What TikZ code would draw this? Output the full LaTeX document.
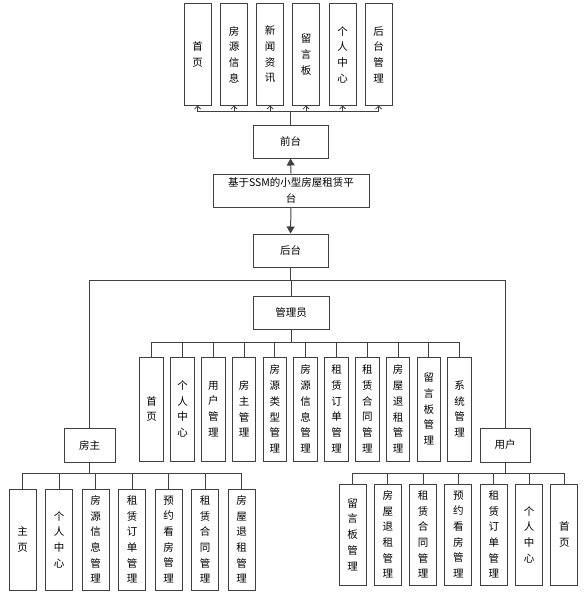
\documentclass[tikz,border=0pt]{standalone}
\usepackage{fontspec}
\newfontfamily\cjk{Noto Sans CJK SC}
\usetikzlibrary{arrows.meta}
\begin{document}
\begin{tikzpicture}[x=1pt,y=-1pt,
 box/.style={draw=black!75, line width=1pt, fill=white, inner sep=0pt, align=center, font=\cjk\fontsize{10.5}{15.7}\selectfont},
 vbox/.style={box, minimum width=27pt, minimum height=101pt},
 abox/.style={box, minimum width=23.5pt, minimum height=104pt},
 hbox/.style={box, minimum width=75pt, minimum height=33pt},
 conn/.style={draw=black!75, line width=1pt},
 bigarrow/.style={conn, -{Triangle[length=7pt,width=8pt]}},
 smallarrow/.style={conn, -{Straight Barb[length=3pt,width=6pt,line width=0.8pt]}}]
\useasboundingbox (0,0) rectangle (584,594);

% front-end pages
\node[vbox] (t1) at (197.5,54.5) {首\\页};
\node[vbox] (t2) at (234,54.5) {房\\源\\信\\息};
\node[vbox] (t3) at (270,54.5) {新\\闻\\资\\讯};
\node[vbox] (t4) at (306,54.5) {留\\言\\板};
\node[vbox] (t5) at (342.5,54.5) {个\\人\\中\\心};
\node[vbox] (t6) at (378.5,54.5) {后\\台\\管\\理};

\node[hbox] (qt) at (290.5,141.5) {前台};
\node[box, minimum width=156pt, minimum height=33pt] (ssm) at (291,190.5) {基于SSM的小型房屋租赁平\\台};
\node[hbox] (ht) at (290.5,250.5) {后台};
\node[box, minimum width=76pt, minimum height=33pt] (gly) at (291,312.5) {管理员};
\node[box, minimum width=51pt, minimum height=34pt] (fz) at (89.5,445) {房主};
\node[box, minimum width=50pt, minimum height=34pt] (yh) at (505,445) {用户};

\foreach \i in {1,...,6} \draw[smallarrow] (qt.north) -- ++(0,-13) -| (t\i.south);
\draw[bigarrow] (ssm.north) -- (qt.south);
\draw[bigarrow] (ssm.south) -- (ht.north);
\draw[conn] (ht.south) -- ++(0,13) -| (fz.north);
\draw[conn] (ht.south) -- ++(0,13) -| (yh.north);
\draw[conn] (ht.south) -- ++(0,13) -| (gly.north);

% admin
\foreach \i/\t in {0/{首\\页},1/{个\\人\\中\\心},2/{用\\户\\管\\理},3/{房\\主\\管\\理},4/{房\\源\\类\\型\\管\\理},5/{房\\源\\信\\息\\管\\理},6/{租\\赁\\订\\单\\管\\理},7/{租\\赁\\合\\同\\管\\理},8/{房\\屋\\退\\租\\管\\理},9/{留\\言\\板\\管\\理},10/{系\\统\\管\\理}}{
  \node[abox] (a\i) at ({151.7+\i*30.8},409) {\t};
  \draw[conn] (gly.south) -- ++(0,13) -| (a\i.north);
}

% landlord
\foreach \i/\t in {0/{主\\页},1/{个\\人\\中\\心},2/{房\\源\\信\\息\\管\\理},3/{租\\赁\\订\\单\\管\\理},4/{预\\约\\看\\房\\管\\理},5/{租\\赁\\合\\同\\管\\理},6/{房\\屋\\退\\租\\管\\理}}{
  \node[vbox] (f\i) at ({22.5+\i*36.5},539.5) {\t};
  \draw[conn] (fz.south) -- ++(0,11) -| (f\i.north);
}

% user
\foreach \i/\t in {0/{留\\言\\板\\管\\理},1/{房\\屋\\退\\租\\管\\理},2/{租\\赁\\合\\同\\管\\理},3/{预\\约\\看\\房\\管\\理},4/{租\\赁\\订\\单\\管\\理},5/{个\\人\\中\\心},6/{首\\页}}{
  \node[vbox] (u\i) at ({352.5+\i*35.33},534.5) {\t};
  \draw[conn] (yh.south) -- ++(0,11) -| (u\i.north);
}
\end{tikzpicture}
\end{document}
